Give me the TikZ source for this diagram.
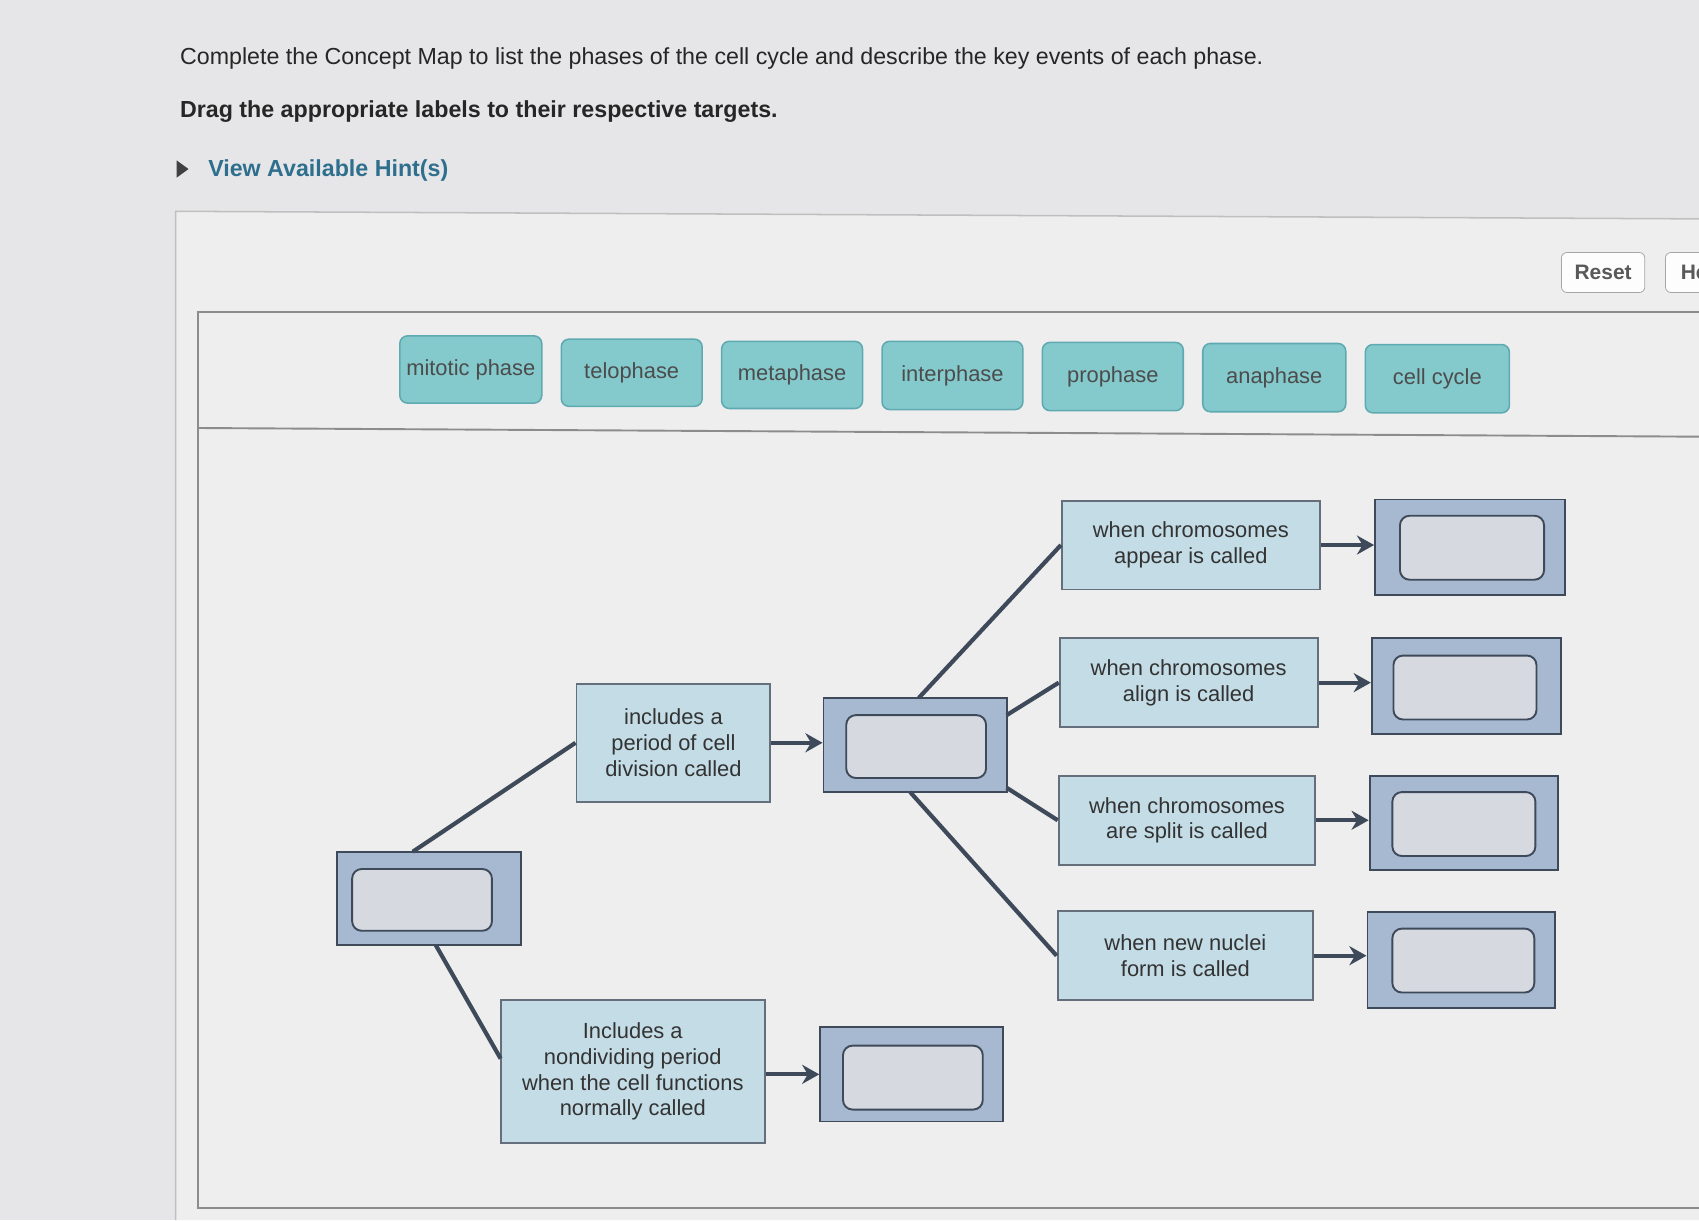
\documentclass[tikz,border=0pt]{standalone}
\usepackage{fontspec}
\setmainfont{Liberation Sans}
\usetikzlibrary{fit,arrows.meta}
\definecolor{pagebg}{HTML}{E6E6E8}
\definecolor{panelbg}{HTML}{EEEEEF}
\definecolor{teal}{HTML}{84C9CC}
\definecolor{tealline}{HTML}{5FA9B0}
\definecolor{lblue}{HTML}{C3DCE6}
\definecolor{tgt}{HTML}{A7B9D0}
\definecolor{tgtin}{HTML}{D6DAE0}
\definecolor{edge}{HTML}{3E4A5A}
\definecolor{hint}{HTML}{2E6F8E}
\tikzset{
 lab/.style={draw=tealline,fill=teal,rounded corners=4pt,inner sep=0pt,line width=0.8pt},
 tb/.style={draw=edge!80,fill=lblue,inner sep=0pt,line width=1pt},
 tg/.style={draw=edge,fill=tgt,inner sep=0pt,line width=1pt},
 tgi/.style={draw=edge,fill=tgtin,rounded corners=5pt,inner sep=0pt,line width=1pt},
 txt/.style={font=\fontsize{11.5}{13.5}\selectfont,text=black!80,align=center},
 con/.style={line width=2.2pt,draw=edge},
 arr/.style={line width=2.2pt,draw=edge,-{Stealth[length=9pt,width=10pt]}}
}
\begin{document}
\begin{tikzpicture}[x=0.02cm,y=-0.02cm]
\useasboundingbox (0,0) rectangle (1568,1126);
\fill[pagebg] (0,0) rectangle (1568,1126);
\node[anchor=west,font=\fontsize{12.2}{14}\selectfont,text=black!85] (title) at (160,54) {Complete the Concept Map to list the phases of the cell cycle and describe the key events of each phase.};
\node[anchor=west,font=\bfseries\fontsize{12.2}{14}\selectfont,text=black!85] (drag) at (160,103) {Drag the appropriate labels to their respective targets.};
\fill[black!75] (163,148) -- (174,156) -- (163,164) -- cycle;
\node[anchor=west,font=\bfseries\fontsize{12.2}{14}\selectfont,text=hint] (hintt) at (186,157) {View Available Hint(s)};
\fill[panelbg] (162,195) -- (1568,202) -- (1568,1126) -- (162,1126) -- cycle;
\draw[black!25,line width=0.8pt] (162,1126) -- (162,195) -- (1568,202);
\draw[black!45,line width=1pt] (1568,288) -- (183,288) -- (183,1115) -- (1568,1115);
\draw[black!45,line width=1pt] (183,395) -- (1568,403);
\node[draw=black!35,fill=white!90!panelbg,rounded corners=3pt,fit={(1441,233)(1518,270)},inner sep=0pt,label={[font=\bfseries\fontsize{11}{13}\selectfont,text=black!65]center:Reset}] (reset) {};
\node[draw=black!35,fill=white!90!panelbg,rounded corners=3pt,fit={(1537,233)(1600,270)},inner sep=0pt] (help) {};
\node[font=\bfseries\fontsize{11}{13}\selectfont,text=black!65,anchor=west] (helpt) at (1545,251) {He};
% labels
\foreach \n/\a/\b/\c/\d/\t in {l1/369/310/500/372/mitotic phase,l2/518/313/648/375/telophase,l3/666/315/796/377/metaphase,l4/814/315/944/378/interphase,l5/962/316/1092/379/prophase,l6/1110/317/1242/380/anaphase,l7/1260/318/1393/381/cell cycle}
 \node[lab,fit={(\a,\b)(\c,\d)},label={[txt,text=black!70]center:\t}] (\n) {};
% text boxes
\node[tb,fit={(532,631)(711,740)},label={[txt]center:includes a\\period of cell\\division called}] (t1) {};
\node[tb,fit={(462,923)(706,1055)},label={[txt]center:Includes a\\nondividing period\\when the cell functions\\normally called}] (t2) {};
\node[tb,fit={(980,462)(1218,544)},label={[txt]center:when chromosomes\\appear is called}] (p1) {};
\node[tb,fit={(978,589)(1216,671)},label={[txt]center:when chromosomes\\align is called}] (p2) {};
\node[tb,fit={(977,716)(1214,798)},label={[txt]center:when chromosomes\\are split is called}] (p3) {};
\node[tb,fit={(976,841)(1212,923)},label={[txt]center:when new nuclei\\form is called}] (p4) {};
% targets
\node[tg,fit={(311,786)(481,872)}] (root) {};
\node[tgi,fit={(325,802)(454,859)}] (rooti) {};
\node[tg,fit={(760,644)(929,731)}] (mit) {};
\node[tgi,fit={(781,660)(910,718)}] (miti) {};
\node[tg,fit={(757,948)(926,1035)}] (int) {};
\node[tgi,fit={(778,965)(907,1024)}] (inti) {};
\node[tg,fit={(1269,461)(1444,549)}] (g1) {};
\node[tgi,fit={(1292,476)(1425,535)}] (g1i) {};
\node[tg,fit={(1266,589)(1441,677)}] (g2) {};
\node[tgi,fit={(1286,605)(1418,664)}] (g2i) {};
\node[tg,fit={(1264,716)(1438,803)}] (g3) {};
\node[tgi,fit={(1285,731)(1417,790)}] (g3i) {};
\node[tg,fit={(1262,842)(1435,930)}] (g4) {};
\node[tgi,fit={(1285,857)(1416,916)}] (g4i) {};
% connectors
\coordinate (r1) at (381,786);
\coordinate (r2) at (402,872);
\coordinate (m1) at (848,644);
\coordinate (m2) at (929,660);
\coordinate (m3) at (929,727);
\coordinate (m4) at (840,731);
\draw[con] (r1) -- (t1.west);
\draw[con] (r2) -- (462,977);
\draw[con] (m1) -- (p1.west);
\draw[con] (m2) -- (p2.west);
\draw[con] (m3) -- (p3.west);
\draw[con] (m4) -- (p4.west);
\draw[arr] (t1.east) -- (t1.east -| mit.west);
\draw[arr] (t2.east |- int.center) -- (int.west);
\draw[arr] (p1.east) -- (p1.east -| g1.west);
\draw[arr] (p2.east) -- (p2.east -| g2.west);
\draw[arr] (p3.east) -- (p3.east -| g3.west);
\draw[arr] (p4.east) -- (p4.east -| g4.west);
\end{tikzpicture}
\end{document}
